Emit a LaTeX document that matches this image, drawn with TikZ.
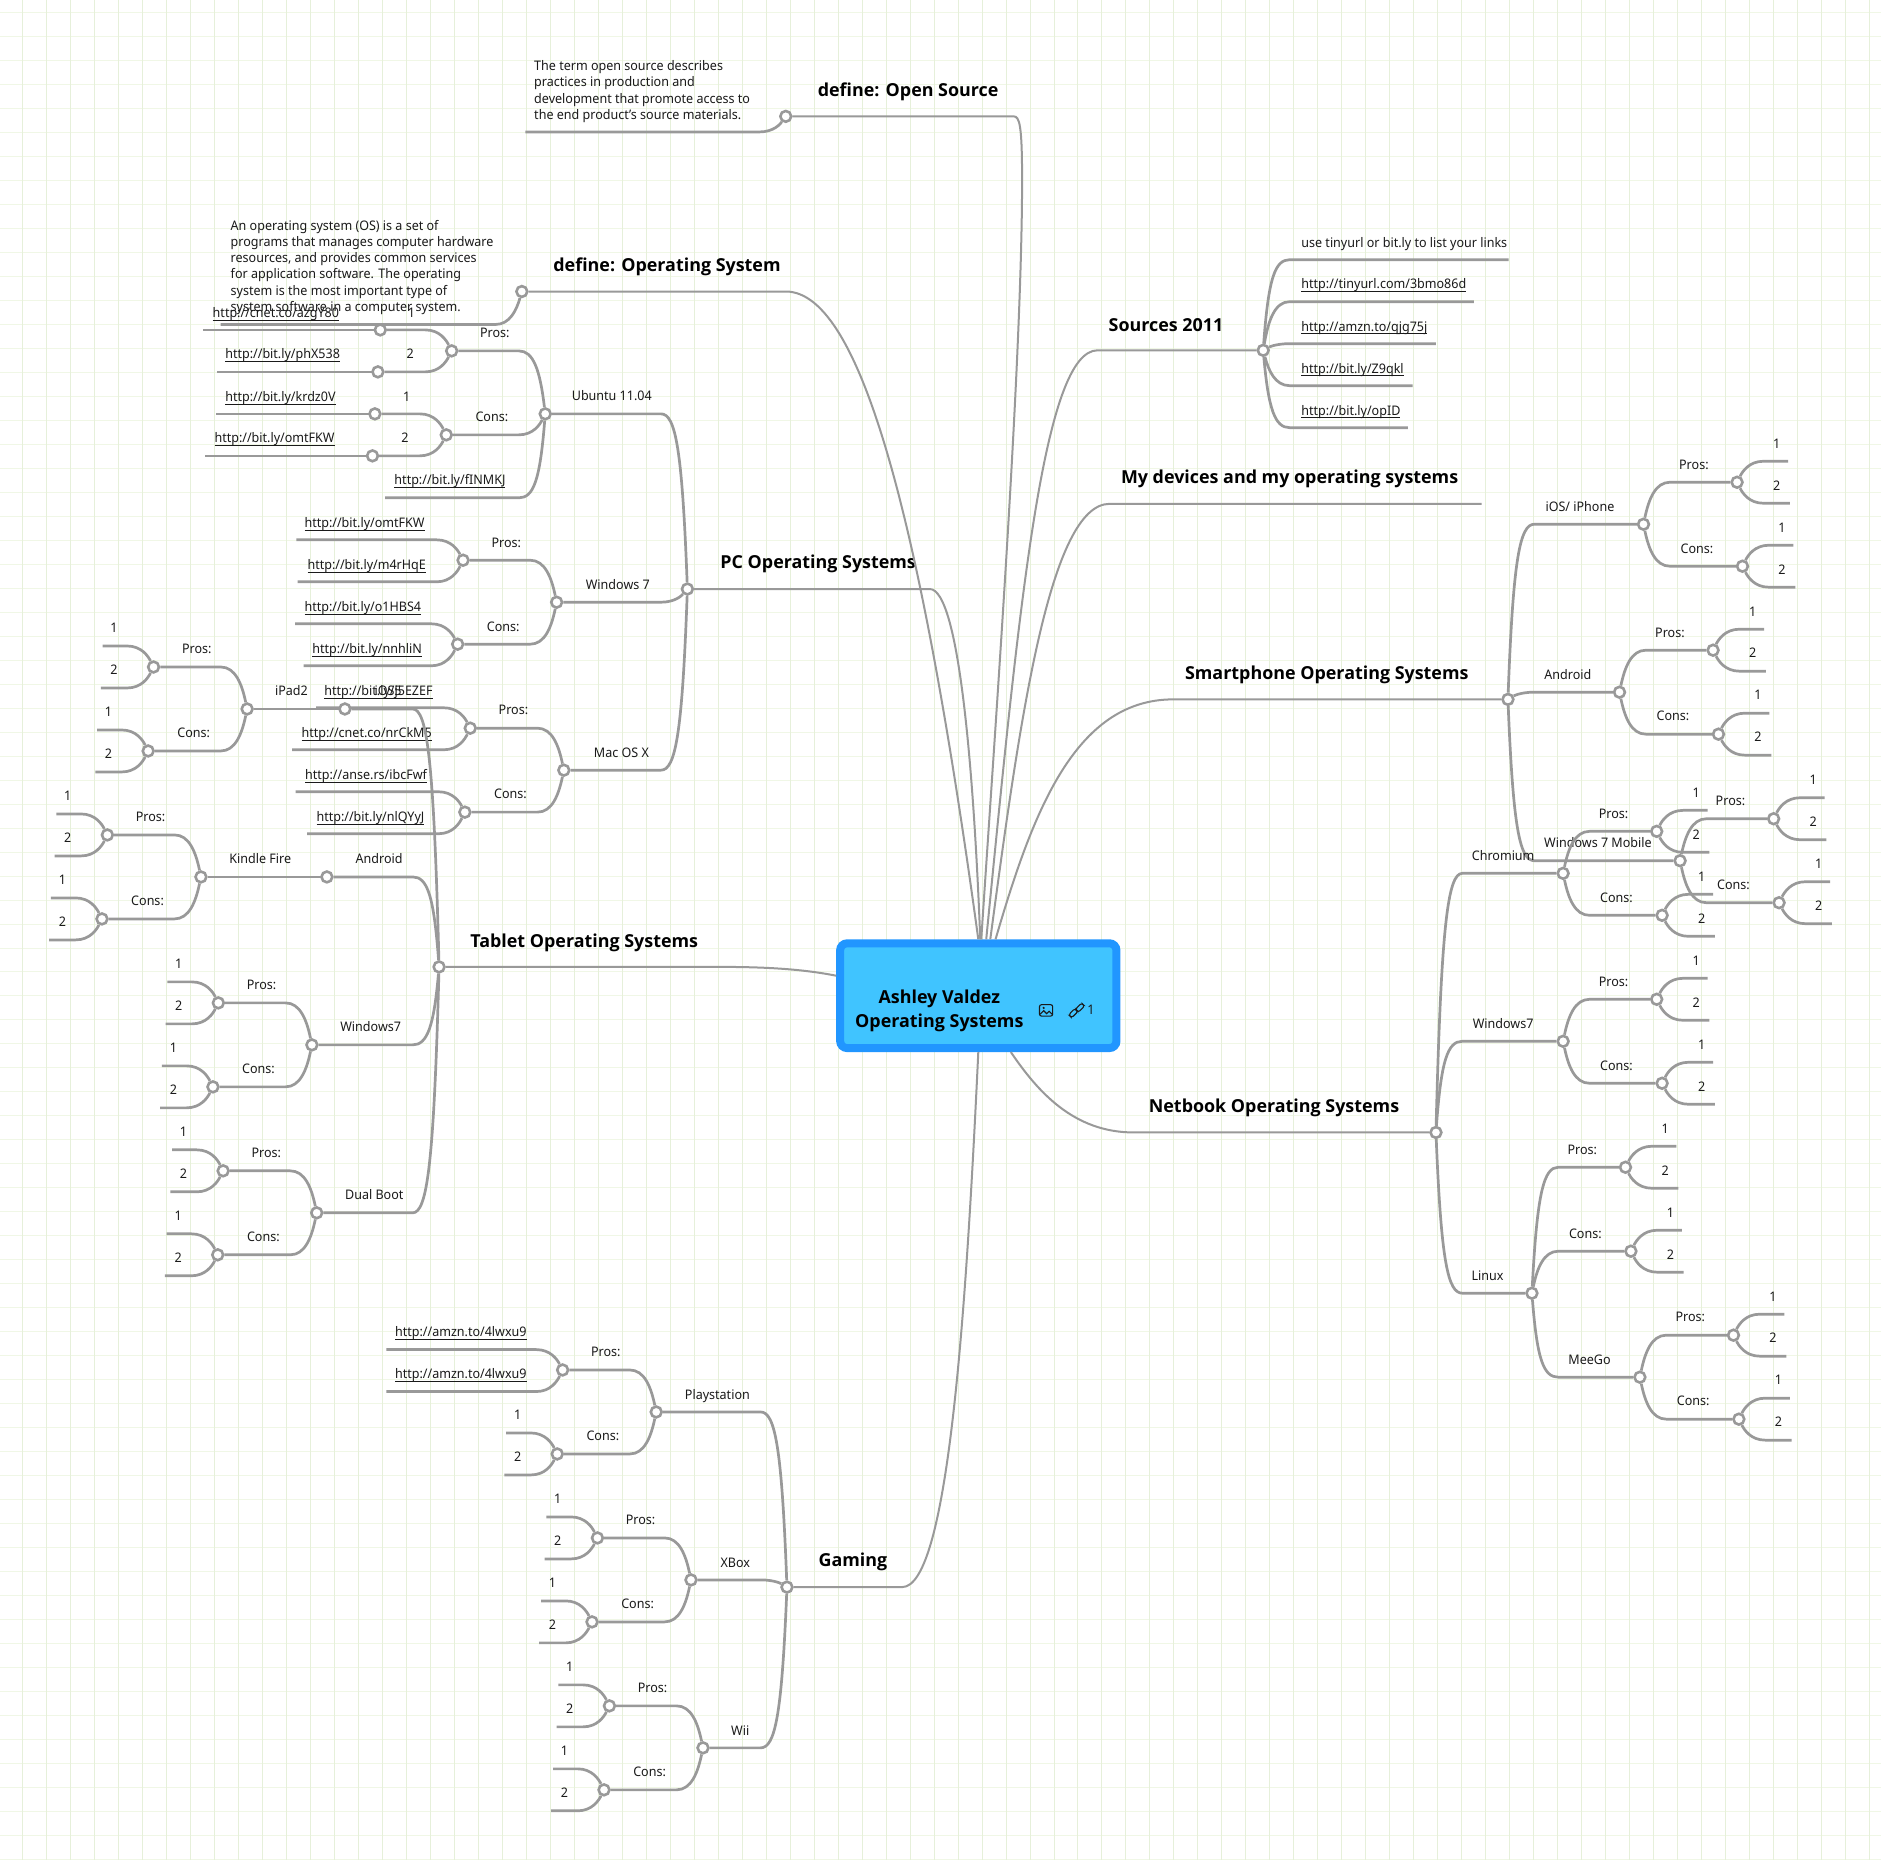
\documentclass[tikz,border=0pt]{standalone}
\usepackage{fontspec}
\setmainfont[FakeStretch=0.95]{Noto Sans}
\newfontfamily\topicfont{Open Sans}
\usetikzlibrary{calc}
\definecolor{linegray}{HTML}{999999}
\definecolor{inkblack}{HTML}{1A1A1A}
\definecolor{rootfill}{HTML}{40C4FF}
\definecolor{rootedge}{HTML}{2196FF}
\definecolor{gridv}{HTML}{E6F0DA}
\definecolor{gridh}{HTML}{F0F7E6}

\newcommand{\numleaves}[4]{
  \coordinate (#1a) at ({#2+#4*42.5},{#3-17.5});
  \coordinate (#1b) at ({#2+#4*44},{#3+17.5});
  \node [word] (#1one) at ({#2+#4*33},{#3-33}) {1};
  \node [word] (#1two) at ({#2+#4*33},{#3+2}) {2};
  \draw [branch] (#1) to (#1a);
  \draw [branch] (#1) to (#1b);
}
\newcommand{\proscons}[4]{
  \node [knob] (#1p) at ({#2+#4*78},{#3-35}) {};
  \node [knob] (#1c) at ({#2+#4*82.5},{#3+35}) {};
  \node [word] (#1pl) at ({#2+#4*42},{#3-50.5}) {Pros:};
  \node [word] (#1cl) at ({#2+#4*44.5},{#3+19.5}) {Cons:};
  \draw [branch] (#1) to (#1p);
  \draw [branch] (#1) to (#1c);
}
\newcommand{\fullos}[4]{
  \proscons{#1}{#2}{#3}{#4}
  \numleaves{#1p}{#2+#4*78}{#3-35}{#4}
  \numleaves{#1c}{#2+#4*82.5}{#3+35}{#4}
}
\newcommand{\urlleaf}[7]{
  \coordinate (#1e) at (#5,#6);
  \node [url] (#1t) at (#3,#4) {\underline{\smash{#7}}};
  \draw [branch] (#2) to (#1e);
}

\begin{document}
\begin{tikzpicture}[x=0.6pt, y=-0.6pt]
  \tikzstyle{knob} = [circle, draw=linegray, fill=white, line width=1.3pt, minimum size=5.4pt, inner sep=0pt]
  \tikzstyle{word} = [font=\fontsize{6.6}{8}\selectfont, text=inkblack, inner sep=0pt, text height=6.8pt, text depth=1.4pt]
  \tikzstyle{url} = [word, anchor=west]
  \tikzstyle{note} = [font=\fontsize{6.6}{8.16}\selectfont, text=inkblack, inner sep=0pt, anchor=north west, align=left]
  \tikzstyle{topic} = [font=\topicfont\fontsize{8.95}{12}\selectfont\bfseries, text=black, inner sep=0pt, yshift=-0.8pt]
  \tikzstyle{stem} = [draw=linegray, line width=1pt]
  \tikzstyle{branch} = [draw=linegray, line width=1.35pt, to path={
      let \p1=(\tikztostart), \p2=(\tikztotarget), \n1={sign(\x2-\x1)}, \n2={min(0.8,0.4+abs(\y2-\y1)/105)} in
      (\tikztostart) .. controls ({\x1+\n1*2.64},{\y1+\n2*(\y2-\y1)}) and ({\x1+\n1*5.94},{\y2}) .. ({\x1+\n1*13.2},{\y2}) -- (\tikztotarget)}]

  \useasboundingbox (0,0) rectangle (1568,1550.5);
  \fill [white] (0,0) rectangle (1568,1550.5);
  \foreach \gy in {0,...,77} {\draw [gridh, line width=0.5pt] (0,{10.25+20*\gy}) -- (1568,{10.25+20*\gy});}
  \foreach \gx in {0,...,77} {\draw [gridv, line width=0.5pt] ({18.6+20*\gx},0) -- ({18.6+20*\gx},1550.5);}

  % centre
  \node (root) [draw=rootedge, fill=rootfill, line width=4pt, rounded corners=3.5pt, minimum width=138.2pt, minimum height=52.4pt] at (815.5,830) {};
  \node (title) [topic, align=center] at (783,841) {Ashley Valdez\\Operating Systems};
  \draw [inkblack, line width=0.55pt, rounded corners=1pt] (866.5,837.5) rectangle (877.5,847);
  \draw [inkblack, line width=0.55pt] (867,845.5) -- (870,842.5) -- (872.5,845) -- (874.5,843) -- (877,845.5);
  \fill [inkblack] (870,840.2) circle (0.6pt);
  \draw [inkblack, line width=0.55pt, rotate around={45:(894.75,844.5)}, rounded corners=1.2pt] (891,842.7) rectangle (898.5,846.3);
  \draw [inkblack, line width=0.55pt, rotate around={45:(900.25,840)}, rounded corners=1.2pt] (896.5,838.2) rectangle (904,841.8);
  \node (linkcount) [word] at (909.5,841) {1};

  % main topics
  \node (opensrc) [knob] at (655,97) {};
  \node (osdef) [knob] at (435,243) {};
  \node (pcos) [knob] at (573,491) {};
  \node (tablet) [knob] at (366,806) {};
  \node (gaming) [knob] at (656,1323) {};
  \node (sources) [knob] at (1053,292) {};
  \node (phones) [knob] at (1257,583) {};
  \node (netbook) [knob] at (1197,944) {};
  \coordinate (devices) at (1235,420);
  \node (lopensrc) [topic] at (757,75) {define: Open Source};
  \node (losdef) [topic] at (556,221) {define: Operating System};
  \node (lpcos) [topic] at (682,469) {PC Operating Systems};
  \node (ltablet) [topic] at (487,785) {Tablet Operating Systems};
  \node (lgaming) [topic] at (711,1301) {Gaming};
  \node (lsources) [topic] at (972,270) {Sources 2011};
  \node (ldevices) [topic] at (1075,398) {My devices and my operating systems};
  \node (lphones) [topic] at (1106,561) {Smartphone Operating Systems};
  \node (lnetbook) [topic] at (1062,922) {Netbook Operating Systems};

  \draw [stem] (opensrc) -- (845,97) .. controls (850,97) and (852,105) .. (852,150) .. controls (852,300) and (830,600) .. (root.87);
  \draw [stem] (osdef) -- (655,243) .. controls (720,243) and (770,450) .. (root.90);
  \draw [stem] (pcos) -- (775,491) .. controls (800,491) and (812,650) .. (root.88);
  \draw [stem] (tablet) -- (600,806) .. controls (640,806) and (670,808) .. (root.172);
  \draw [stem] (gaming) -- (752,1323) .. controls (790,1323) and (805,1100) .. (root.-90);
  \draw [stem] (sources) -- (915,292) .. controls (870,292) and (850,500) .. (root.82);
  \draw [stem] (devices) -- (925,420) .. controls (875,420) and (850,600) .. (root.78);
  \draw [stem] (phones) -- (978,583) .. controls (895,583) and (860,680) .. (root.73);
  \draw [stem] (netbook) -- (945,944) .. controls (895,944) and (865,910) .. (root.-60);

  % definitions
  \coordinate (opennote) at (438,110);
  \coordinate (osnote) at (184,270.5);
  \draw [branch] (opensrc) to (opennote);
  \draw [branch] (osdef) to (osnote);
  \node (topennote) [note] at (445,50) {The term open source describes\\practices in production and\\development that promote access to\\the end product's source materials.};
  \node (tosnote) [note] at (192,183) {An operating system (OS) is a set of\\programs that manages computer hardware\\resources, and provides common services\\for application software. The operating\\system is the most important type of\\system software in a computer system.};

  % sources
  \coordinate (srcae) at (1257.5,216.5);
  \node (srcat) [url] at (1084.5,201.5) {use tinyurl or bit.ly to list your links};
  \draw [branch] (sources) to (srcae);
  \urlleaf{srcb}{sources}{1084.5}{236}{1228.5}{251.5}{http://tinyurl.com/3bmo86d}
  \urlleaf{srcc}{sources}{1084.5}{271.5}{1197}{286.5}{http://amzn.to/qjg75j}
  \urlleaf{srcd}{sources}{1084.5}{306.5}{1177.5}{321.5}{http://bit.ly/Z9qkl}
  \urlleaf{srce}{sources}{1084.5}{341.5}{1173.5}{356.5}{http://bit.ly/opID}

  % pc
  \node (ubuntu) [knob] at (454.5,345) {};
  \node (winseven) [knob] at (464,502) {};
  \node (macos) [knob] at (470,642) {};
  \node (lubuntu) [word] at (510,329) {Ubuntu 11.04};
  \node (lwinseven) [word] at (515,487) {Windows 7};
  \node (lmacos) [word] at (518,627) {Mac OS X};
  \draw [branch] (pcos) to (ubuntu);
  \draw [branch] (pcos) to (winseven);
  \draw [branch] (pcos) to (macos);

  \proscons{ubuntu}{454.5}{327.5}{-1}
  \node (ubpa) [knob] at (317,275) {};
  \node (ubpb) [knob] at (315,310) {};
  \node (ubca) [knob] at (312.5,345) {};
  \node (ubcb) [knob] at (310.5,380) {};
  \foreach \kn/\kx/\ky/\kt in {ubpa/343/260/1, ubpb/342/294.5/2, ubca/339/330/1, ubcb/337.5/364.5/2}
    {\node (l\kn) [word] at (\kx,\ky) {\kt};}
  \draw [branch] (ubuntup) to (ubpa);
  \draw [branch] (ubuntup) to (ubpb);
  \draw [branch] (ubuntuc) to (ubca);
  \draw [branch] (ubuntuc) to (ubcb);
  \urlleaf{urla}{ubpa}{177}{260}{169.5}{275}{http://cnet.co/azgY80}
  \urlleaf{urlb}{ubpb}{187.5}{294.5}{180.5}{310}{http://bit.ly/phX538}
  \urlleaf{urlc}{ubca}{187.5}{330}{180}{345}{http://bit.ly/krdz0V}
  \urlleaf{urld}{ubcb}{178.5}{364.5}{171}{380}{http://bit.ly/omtFKW}
  \urlleaf{urle}{ubuntu}{328.5}{399.5}{321}{415}{http://bit.ly/fINMKJ}

  \proscons{winseven}{464}{502}{-1}
  \urlleaf{urlf}{winsevenp}{253.5}{435}{247}{450}{http://bit.ly/omtFKW}
  \urlleaf{urlg}{winsevenp}{256}{470}{248}{485}{http://bit.ly/m4rHqE}
  \urlleaf{urlh}{winsevenc}{253.5}{505}{246}{520}{http://bit.ly/o1HBS4}
  \urlleaf{urli}{winsevenc}{260}{540}{253}{555}{http://bit.ly/nnhliN}

  \proscons{macos}{470}{642}{-1}
  \urlleaf{urlj}{macosp}{270}{575}{263.5}{590}{http://bit.ly/j5EZEF}
  \urlleaf{urlk}{macosp}{251}{610}{243.5}{625}{http://cnet.co/nrCkM5}
  \urlleaf{urll}{macosc}{254}{645}{246.5}{660}{http://anse.rs/ibcFwf}
  \urlleaf{urlm}{macosc}{263.5}{680}{256}{695}{http://bit.ly/nlQYyJ}

  % tablets
  \node (iosfive) [knob] at (287.5,591) {};
  \node (ipad) [knob] at (206,591) {};
  \node (droidtab) [knob] at (272.5,731) {};
  \node (kindle) [knob] at (167.5,731) {};
  \node (wintab) [knob] at (260,871) {};
  \node (dualboot) [knob] at (264,1011) {};
  \node (liosfive) [word] at (323.5,575) {iOS5};
  \node (lipad) [word] at (243,575) {iPad2};
  \node (ldroidtab) [word] at (316,715) {Android};
  \node (lkindle) [word] at (217,715) {Kindle Fire};
  \node (lwintab) [word] at (309,855) {Windows7};
  \node (ldualboot) [word] at (312,995) {Dual Boot};
  \draw [branch] (tablet) to (iosfive);
  \draw [branch] (iosfive) to (ipad);
  \draw [branch] (tablet) to (droidtab);
  \draw [branch] (droidtab) to (kindle);
  \draw [branch] (tablet) to (wintab);
  \draw [branch] (tablet) to (dualboot);
  \fullos{ipad}{206}{591}{-1}
  \fullos{kindle}{167.5}{731}{-1}
  \fullos{wintab}{260}{871}{-1}
  \fullos{dualboot}{264}{1011}{-1}

  % gaming
  \node (psn) [knob] at (547,1177) {};
  \node (xbox) [knob] at (576,1317) {};
  \node (wii) [knob] at (586,1457) {};
  \node (lpsn) [word] at (598,1162) {Playstation};
  \node (lxbox) [word] at (613,1302) {XBox};
  \node (lwii) [word] at (617,1442) {Wii};
  \draw [branch] (gaming) to (psn);
  \draw [branch] (gaming) to (xbox);
  \draw [branch] (gaming) to (wii);
  \proscons{psn}{547}{1177}{-1}
  \urlleaf{urln}{psnp}{329}{1110}{322}{1125}{http://amzn.to/4lwxu9}
  \urlleaf{urlo}{psnp}{329}{1145}{322}{1160}{http://amzn.to/4lwxu9}
  \numleaves{psnc}{464.5}{1212}{-1}
  \fullos{xbox}{576}{1317}{-1}
  \fullos{wii}{586}{1457}{-1}

  % smartphones
  \node (iphone) [knob] at (1370,437) {};
  \node (droid) [knob] at (1350,577) {};
  \node (winmob) [knob] at (1400.5,717.5) {};
  \node (liphone) [word] at (1317,422) {iOS/ iPhone};
  \node (ldroid) [word] at (1307,562) {Android};
  \node (lwinmob) [word] at (1332,702) {Windows 7 Mobile};
  \draw [branch] (phones) to (iphone);
  \draw [branch] (phones) to (droid);
  \draw [branch] (phones) to (winmob);
  \fullos{iphone}{1370}{437}{1}
  \fullos{droid}{1350}{577}{1}
  \fullos{winmob}{1400.5}{717.5}{1}

  % netbooks
  \node (chromium) [knob] at (1303,728) {};
  \node (winnet) [knob] at (1303,868) {};
  \node (linux) [knob] at (1277,1078) {};
  \node (meego) [knob] at (1367,1148) {};
  \node (lchromium) [word] at (1253,713) {Chromium};
  \node (lwinnet) [word] at (1253,853) {Windows7};
  \node (llinux) [word] at (1240,1063) {Linux};
  \node (lmeego) [word] at (1325,1133) {MeeGo};
  \draw [branch] (netbook) to (chromium);
  \draw [branch] (netbook) to (winnet);
  \draw [branch] (netbook) to (linux);
  \draw [branch] (linux) to (meego);
  \fullos{chromium}{1303}{728}{1}
  \fullos{winnet}{1303}{868}{1}
  \proscons{linux}{1277}{1008}{1}
  \numleaves{linuxp}{1355}{973}{1}
  \numleaves{linuxc}{1359.5}{1043}{1}
  \fullos{meego}{1367}{1148}{1}
\end{tikzpicture}
\end{document}
